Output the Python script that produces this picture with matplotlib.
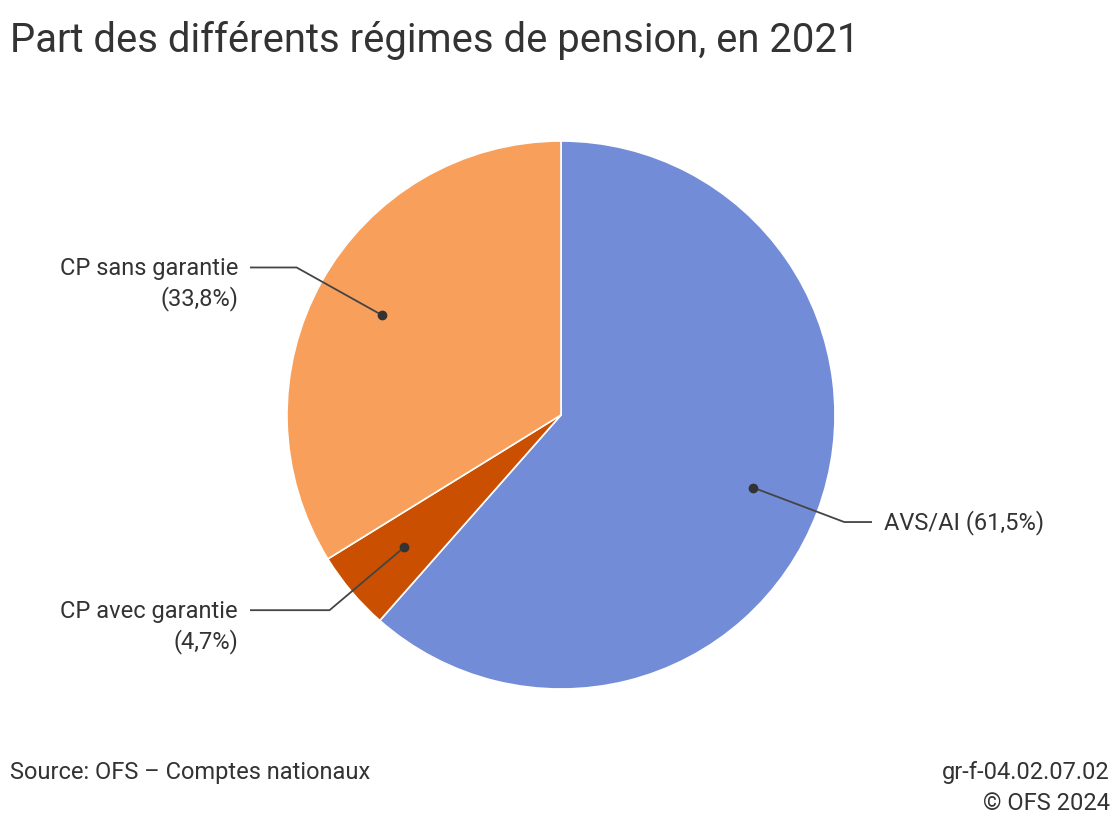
import numpy as np
import matplotlib.pyplot as plt

plt.rcParams['font.family'] = ['Roboto', 'DejaVu Sans']

# Data
categories = ['AVS/AI', 'CP avec garantie', 'CP sans garantie']
shares = [61.5, 4.7, 33.8]
colors = ['#738cd8', '#cb4f00', '#f89f5b']
two_lines = [False, True, True]

W, H = 1120, 828
fig = plt.figure(figsize=(W / 100, H / 100), dpi=100)
ax = fig.add_axes([0, 0, 1, 1])

cx, cy, R = 561, H - 416, 274
wedges, _ = ax.pie(shares, colors=colors, startangle=90, counterclock=False,
                   center=(cx, cy), radius=R,
                   wedgeprops=dict(edgecolor='white', linewidth=1.2))
ax.set_xlim(0, W)
ax.set_ylim(0, H)
ax.set_aspect('equal')
ax.axis('off')

text_col = '#333333'
line_col = '#444444'
fs = 17

for w, name, val, split in zip(wedges, categories, shares, two_lines):
    mid = np.deg2rad((w.theta1 + w.theta2) / 2)
    dx, dy = np.cos(mid), np.sin(mid)
    px, py = cx + 0.75 * R * dx, cy + 0.75 * R * dy
    ex, ey = cx + 1.105 * R * dx, cy + 1.105 * R * dy
    side = 1 if dx > 0 else -1
    hx = cx + side * 311
    ax.plot([px, ex, hx], [py, ey, ey], color=line_col, lw=1.3,
            solid_capstyle='butt', zorder=3)
    ax.plot(px, py, 'o', color='#333333', ms=6, zorder=4)
    pct = f"({val:.1f}%)".replace('.', ',')
    tx = hx + side * 12
    ha = 'left' if side > 0 else 'right'
    if split:
        ax.text(tx, ey, name, ha=ha, va='center', fontsize=fs, color=text_col)
        ax.text(tx, ey - 30, pct, ha=ha, va='center', fontsize=fs, color=text_col)
    else:
        ax.text(tx, ey, f"{name} {pct}", ha=ha, va='center', fontsize=fs,
                color=text_col)

fig.text(10 / W, 1 - 52 / H, 'Part des différents régimes de pension, en 2021',
         ha='left', va='baseline', fontsize=28.8, color=text_col)
fig.text(10 / W, 1 - 779 / H, 'Source: OFS – Comptes nationaux',
         ha='left', va='baseline', fontsize=17, color=text_col)
fig.text(1 - 10 / W, 1 - 779 / H, 'gr-f-04.02.07.02',
         ha='right', va='baseline', fontsize=17, color=text_col)
fig.text(1 - 10 / W, 1 - 810 / H, '© OFS 2024',
         ha='right', va='baseline', fontsize=17, color=text_col)

fig.savefig('out.png', dpi=100, facecolor='white')
